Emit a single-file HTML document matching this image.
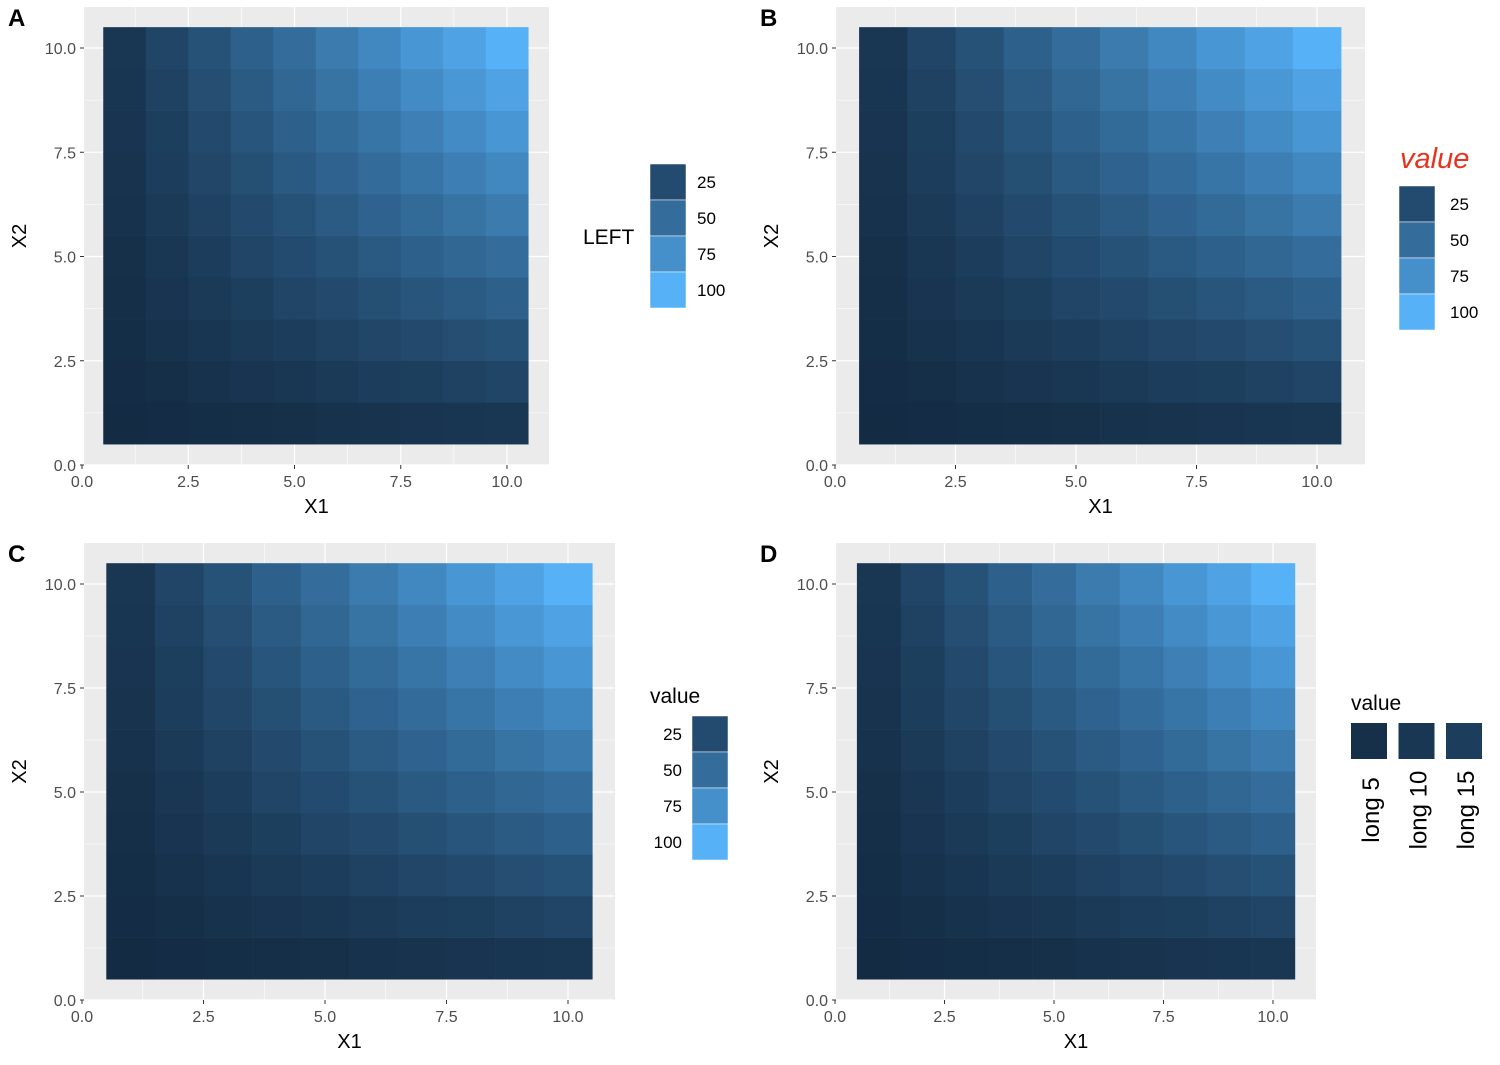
<!DOCTYPE html>
<html><head><meta charset="utf-8">
<style>
html,body{margin:0;padding:0;background:#fff;}
body{width:1500px;height:1060px;overflow:hidden;font-family:"Liberation Sans",sans-serif;}
</style></head>
<body>
<svg id="fig" width="1500" height="1060" xmlns="http://www.w3.org/2000/svg" font-family="Liberation Sans, sans-serif"></svg>
<script>
const xCats=[1,2,3,4,5,6,7,8,9,10];
const yCats=[1,2,3,4,5,6,7,8,9,10];
// values[row=X2-1][col=X1-1]
const values=[
[1,2,3,4,5,6,7,8,9,10],
[2,4,6,8,10,12,14,16,18,20],
[3,6,9,12,15,18,21,24,27,30],
[4,8,12,16,20,24,28,32,36,40],
[5,10,15,20,25,30,35,40,45,50],
[6,12,18,24,30,36,42,48,54,60],
[7,14,21,28,35,42,49,56,63,70],
[8,16,24,32,40,48,56,64,72,80],
[9,18,27,36,45,54,63,72,81,90],
[10,20,30,40,50,60,70,80,90,100]];
const tickVals=[0,2.5,5,7.5,10];
const tickLabels=["0.0","2.5","5.0","7.5","10.0"];
const legendVals=[25,50,75,100];
const legendLabels=["25","50","75","100"];
const longLabels=["long 5","long 10","long 15"];
const longVals=[5,10,15];

const NS="http://www.w3.org/2000/svg";
const svg=document.getElementById('fig');
function mk(tag,at,parent){const e=document.createElementNS(NS,tag);for(const k in at)e.setAttribute(k,at[k]);(parent||svg).appendChild(e);return e;}
function col(v){const t=Math.max(0,Math.min(1,(v-1)/99));const a=[19,43,67],b=[86,177,247];return `rgb(${a.map((c,i)=>Math.round(c+t*(b[i]-c))).join(',')})`;}

const panels=[
 {tag:"A",L:84,R:549,T:7,B:465,x0:82,x10:507,y0:465,y10:48},
 {tag:"B",L:836,R:1365,T:7,B:465,x0:835,x10:1317,y0:465,y10:48},
 {tag:"C",L:84,R:615,T:543,B:1000,x0:82,x10:568,y0:1000,y10:584},
 {tag:"D",L:836,R:1316,T:543,B:1000,x0:835,x10:1273,y0:1000,y10:584}];

panels.forEach(p=>{
 const g=mk('g',{});
 
 
 const sx=v=>p.x0+(p.x10-p.x0)*v/10, sy=v=>p.y0+(p.y10-p.y0)*v/10;
 const bg=mk('rect',{x:p.L,y:p.T,width:p.R-p.L,height:p.B-p.T,fill:'#EBEBEB'},g);
 
 
 for(let v=1.25;v<11;v+=2.5){mk('line',{x1:sx(v),x2:sx(v),y1:p.T,y2:p.B,stroke:'#fff','stroke-width':0.6},g);mk('line',{y1:sy(v),y2:sy(v),x1:p.L,x2:p.R,stroke:'#fff','stroke-width':0.6},g);}
 tickVals.forEach(v=>{mk('line',{x1:sx(v),x2:sx(v),y1:p.T,y2:p.B,stroke:'#fff','stroke-width':1.2},g);mk('line',{y1:sy(v),y2:sy(v),x1:p.L,x2:p.R,stroke:'#fff','stroke-width':1.2},g);});
 values.forEach((row,r)=>row.forEach((v,c)=>{
  const x1=sx(xCats[c]-0.5),x2=sx(xCats[c]+0.5),y1=sy(yCats[r]+0.5),y2=sy(yCats[r]-0.5);
  const t=mk('rect',{x:x1,y:y1,width:x2-x1+0.3,height:y2-y1+0.3,fill:col(v)},g);
  
  
 }));
 tickVals.forEach((v,i)=>{
  mk('line',{x1:sx(v),x2:sx(v),y1:p.B,y2:p.B+4,stroke:'#333'},g);
  const tx=mk('text',{x:sx(v),y:p.B+22,'font-size':16,fill:'#4D4D4D','text-anchor':'middle'},g);tx.textContent=tickLabels[i];
  
  
  mk('line',{x1:p.L-4,x2:p.L,y1:sy(v),y2:sy(v),stroke:'#333'},g);
  const ty=mk('text',{x:p.L-8,y:sy(v)+6,'font-size':16,fill:'#4D4D4D','text-anchor':'end'},g);ty.textContent=tickLabels[i];
  
  
 });
 const xt=mk('text',{x:(p.L+p.R)/2,y:p.B+48,'font-size':20,'text-anchor':'middle',fill:'#000'},g);xt.textContent='X1';
 
 
 const yt=mk('text',{x:0,y:0,'font-size':20,'text-anchor':'middle',transform:`translate(${p.L-58},${(p.T+p.B)/2}) rotate(-90)`,fill:'#000'},g);yt.textContent='X2';
 
 
 const tg=mk('text',{x:p.L-76,y:p.T+19,'font-size':24,'font-weight':'bold',fill:'#000'},g);tg.textContent=p.tag;
 
 
});

function stepLegend(x,y,labelX,anchor){
 legendVals.forEach((v,i)=>{
  const r=mk('rect',{x:x,y:y+i*36,width:36,height:36,fill:col(v),stroke:'#fff','stroke-width':0.5});
  
  
  const t=mk('text',{x:labelX,y:y+i*36+24,'font-size':17,'text-anchor':anchor,fill:'#000'});t.textContent=legendLabels[i];
  
  
 });
}
stepLegend(650,164,697,'start');
let lt=mk('text',{x:583,y:244,'font-size':21,fill:'#000'});lt.textContent='LEFT';


stepLegend(1399,186,1450,'start');
lt=mk('text',{x:1400,y:168,'font-size':29,'font-style':'italic',fill:'#E8341C'});lt.textContent='value';


stepLegend(692,716,682,'end');
lt=mk('text',{x:650,y:703,'font-size':21,fill:'#000'});lt.textContent='value';


lt=mk('text',{x:1351,y:710,'font-size':21,fill:'#000'});lt.textContent='value';


longVals.forEach((v,i)=>{
 const x=1351+i*47.5;
 const r=mk('rect',{x:x,y:723,width:36,height:36,fill:col(v)});
 
 
 const t=mk('text',{x:0,y:0,'font-size':24,'text-anchor':'middle',fill:'#000',transform:`translate(${x+28},${810}) rotate(-90)`});t.textContent=longLabels[i];
 
 
});
</script>
</body></html>
